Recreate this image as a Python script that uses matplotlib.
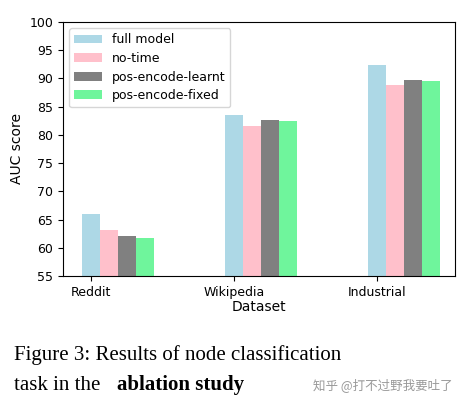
import numpy as np
import matplotlib.pyplot as plt

datasets = ['Reddit', 'Wikipedia', 'Industrial']
series = ['full model', 'no-time', 'pos-encode-learnt', 'pos-encode-fixed']
full_model = [65.9, 83.5, 92.4]
no_time = [63.2, 81.6, 88.9]
pos_learnt = [62.0, 82.6, 89.8]
pos_fixed = [61.7, 82.4, 89.6]
colors = ['lightblue', 'pink', 'gray', '#6ff59c']

fig = plt.figure(figsize=(4.6, 4.13), dpi=100)
ax = fig.add_axes([63/460, 1 - 276/413, 392/460, 254/413])

x = np.arange(len(datasets))
w = 0.125
for i, (vals, name) in enumerate(zip([full_model, no_time, pos_learnt, pos_fixed], series)):
    ax.bar(x + i * w, vals, w, align='center', color=colors[i], label=name)

ax.set_xlim(-0.196, 2.545)
ax.set_ylim(55, 100)
ax.set_yticks(range(55, 101, 5))
ax.set_xticks(x)
ax.set_xticklabels(datasets)
ax.tick_params(labelsize=9)
ax.set_xlabel('Dataset', fontsize=10, labelpad=1)
ax.set_ylabel('AUC score', fontsize=10)
ax.legend(loc='upper left', fontsize=9, handlelength=2.2, labelspacing=0.45)

fig.text(0.03, 1 - 355/413, 'Figure 3: Results of node classification', family='Liberation Serif',
         fontsize=15, va='center')
fig.text(0.03, 1 - 385/413, 'task in the ', family='Liberation Serif', fontsize=15, va='center')
fig.text(0.255, 1 - 385/413, 'ablation study', family='Liberation Serif', fontsize=15,
         weight='bold', va='center')
fig.text(0.985, 1 - 385/413, '知乎 @打不过野我要吐了', family=['Noto Sans CJK SC', 'DejaVu Sans'],
         fontsize=9, color='#999999', ha='right', va='center')

fig.savefig('out.png')
